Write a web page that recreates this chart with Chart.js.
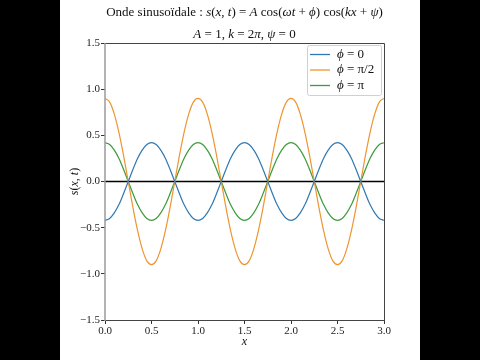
<!DOCTYPE html>
<html>
<head>
<meta charset="utf-8">
<script src="https://cdn.jsdelivr.net/npm/chart.js@4/dist/chart.umd.min.js"></script>
<style>
html,body{margin:0;padding:0;background:#000;}
#wrap{width:480px;height:360px;position:relative;}
</style>
</head>
<body>
<div id="wrap"><canvas id="c" width="480" height="360"></canvas></div>
<script>
// x positions
const xs = [0.00,0.05,0.10,0.15,0.20,0.25,0.30,0.35,0.40,0.45,0.50,0.55,0.60,0.65,0.70,0.75,0.80,0.85,0.90,0.95,
            1.00,1.05,1.10,1.15,1.20,1.25,1.30,1.35,1.40,1.45,1.50,1.55,1.60,1.65,1.70,1.75,1.80,1.85,1.90,1.95,
            2.00,2.05,2.10,2.15,2.20,2.25,2.30,2.35,2.40,2.45,2.50,2.55,2.60,2.65,2.70,2.75,2.80,2.85,2.90,2.95,3.00];
// phi = 0 (blue)
const sPhi0 = [-0.42,-0.40,-0.34,-0.25,-0.13,0.00,0.13,0.25,0.34,0.40,0.42,0.40,0.34,0.25,0.13,0.00,-0.13,-0.25,-0.34,-0.40,
               -0.42,-0.40,-0.34,-0.25,-0.13,0.00,0.13,0.25,0.34,0.40,0.42,0.40,0.34,0.25,0.13,0.00,-0.13,-0.25,-0.34,-0.40,
               -0.42,-0.40,-0.34,-0.25,-0.13,0.00,0.13,0.25,0.34,0.40,0.42,0.40,0.34,0.25,0.13,0.00,-0.13,-0.25,-0.34,-0.40,-0.42];
// phi = pi/2 (orange)
const sPhiHalfPi = [0.90,0.86,0.73,0.53,0.28,0.00,-0.28,-0.53,-0.73,-0.86,-0.90,-0.86,-0.73,-0.53,-0.28,0.00,0.28,0.53,0.73,0.86,
                    0.90,0.86,0.73,0.53,0.28,0.00,-0.28,-0.53,-0.73,-0.86,-0.90,-0.86,-0.73,-0.53,-0.28,0.00,0.28,0.53,0.73,0.86,
                    0.90,0.86,0.73,0.53,0.28,0.00,-0.28,-0.53,-0.73,-0.86,-0.90,-0.86,-0.73,-0.53,-0.28,0.00,0.28,0.53,0.73,0.86,0.90];
// phi = pi (green)
const sPhiPi = [0.42,0.40,0.34,0.25,0.13,0.00,-0.13,-0.25,-0.34,-0.40,-0.42,-0.40,-0.34,-0.25,-0.13,0.00,0.13,0.25,0.34,0.40,
                0.42,0.40,0.34,0.25,0.13,0.00,-0.13,-0.25,-0.34,-0.40,-0.42,-0.40,-0.34,-0.25,-0.13,0.00,0.13,0.25,0.34,0.40,
                0.42,0.40,0.34,0.25,0.13,0.00,-0.13,-0.25,-0.34,-0.40,-0.42,-0.40,-0.34,-0.25,-0.13,0.00,0.13,0.25,0.34,0.40,0.42];
// horizontal reference line
const zeroLineX = [0, 3];
const zeroLineY = [0, 0];
// axis ticks
const xTicks = [0.0, 0.5, 1.0, 1.5, 2.0, 2.5, 3.0];
const yTicks = [-1.5, -1.0, -0.5, 0.0, 0.5, 1.0, 1.5];
// legend labels (math runs: [text, italic])
const legendLabels = [
  [["ϕ", true], [" = 0", false]],
  [["ϕ", true], [" = π/2", false]],
  [["ϕ", true], [" = π", false]]
];
const title1 = [["Onde sinusoïdale : ", false], ["s", true], ["(", false], ["x", true], [", ", false], ["t", true], [") = ", false],
                ["A", true], [" cos(", false], ["ωt", true], [" + ", false], ["ϕ", true], [") cos(", false], ["kx", true],
                [" + ", false], ["ψ", true], [")", false]];
const title2 = [["A", true], [" = 1, ", false], ["k", true], [" = 2", false], ["π", true], [", ", false], ["ψ", true], [" = 0", false]];

const FAM = "'Liberation Serif', 'DejaVu Serif', serif";
const colors = ['#2f78b2', '#ee9530', '#3c9a3a'];

const pts = (X, Y) => X.map((x, i) => ({x: x, y: Y[i]}));

function runsWidth(ctx, runs, size) {
  let w = 0;
  for (const [t, it] of runs) { ctx.font = (it ? 'italic ' : '') + size + 'px ' + FAM; w += ctx.measureText(t).width; }
  return w;
}
function drawRuns(ctx, runs, x, y, size, align) {
  const w = runsWidth(ctx, runs, size);
  let cx = align === 'center' ? x - w / 2 : x;
  ctx.textBaseline = 'middle';
  ctx.textAlign = 'left';
  for (const [t, it] of runs) {
    ctx.font = (it ? 'italic ' : '') + size + 'px ' + FAM;
    ctx.fillText(t, cx, y);
    cx += ctx.measureText(t).width;
  }
}

const decor = {
  id: 'decor',
  beforeDraw(chart) {
    const ctx = chart.ctx;
    ctx.save();
    ctx.fillStyle = '#000';
    ctx.fillRect(0, 0, 480, 360);
    ctx.fillStyle = '#fff';
    ctx.fillRect(60, 0, 360, 360);
    ctx.restore();
  },
  afterDraw(chart) {
    const ctx = chart.ctx;
    const a = chart.chartArea;
    ctx.save();
    // spines
    ctx.lineWidth = 1;
    ctx.strokeStyle = '#444';
    ctx.beginPath();
    ctx.moveTo(a.left, a.top + 0.5); ctx.lineTo(a.right + 0.5, a.top + 0.5);
    ctx.lineTo(a.right + 0.5, a.bottom + 0.5); ctx.lineTo(a.left, a.bottom + 0.5);
    ctx.stroke();
    ctx.strokeStyle = '#9a9a9a';
    ctx.lineWidth = 1.5;
    ctx.beginPath();
    ctx.moveTo(a.left, a.top); ctx.lineTo(a.left, a.bottom + 1);
    ctx.stroke();
    // titles
    ctx.fillStyle = '#111';
    const cx = (a.left + a.right) / 2;
    drawRuns(ctx, title1, cx, 13, 13, 'center');
    drawRuns(ctx, title2, cx, 35, 13, 'center');
    // axis titles
    drawRuns(ctx, [["x", true]], cx, 342, 12, 'center');
    ctx.save();
    ctx.translate(75, (a.top + a.bottom) / 2);
    ctx.rotate(-Math.PI / 2);
    drawRuns(ctx, [["s", true], ["(", false], ["x", true], [", ", false], ["t", true], [")", false]], 0, 0, 12, 'center');
    ctx.restore();
    // legend
    const bx = 307, by = 45, bw = 74, bh = 50;
    ctx.fillStyle = 'rgba(255,255,255,0.85)';
    ctx.strokeStyle = '#d0d0d0';
    ctx.lineWidth = 1;
    ctx.beginPath();
    if (ctx.roundRect) ctx.roundRect(bx + 0.5, by + 0.5, bw, bh, 2); else ctx.rect(bx + 0.5, by + 0.5, bw, bh);
    ctx.fill(); ctx.stroke();
    legendLabels.forEach((lab, i) => {
      const y = by + 9.5 + i * 15.5;
      ctx.strokeStyle = colors[i];
      ctx.lineWidth = 1.3;
      ctx.beginPath(); ctx.moveTo(bx + 3, y); ctx.lineTo(bx + 23, y); ctx.stroke();
      ctx.fillStyle = '#111';
      drawRuns(ctx, lab, bx + 30, y, 13, 'left');
    });
    ctx.restore();
  }
};

const lineDs = (label, data, color) => ({
  label: label, data: data, borderColor: color, borderWidth: 1.2, pointRadius: 0,
  fill: false, cubicInterpolationMode: 'monotone'
});

new Chart(document.getElementById('c'), {
  type: 'line',
  data: {
    datasets: [
      lineDs('ϕ = 0', pts(xs, sPhi0), colors[0]),
      lineDs('ϕ = π/2', pts(xs, sPhiHalfPi), colors[1]),
      lineDs('ϕ = π', pts(xs, sPhiPi), colors[2]),
      {label: 'zero', data: pts(zeroLineX, zeroLineY), borderColor: '#000', borderWidth: 1.5, pointRadius: 0, fill: false}
    ]
  },
  options: {
    responsive: false,
    animation: false,
    devicePixelRatio: 1,
    layout: {padding: {left: 60, right: 96, top: 43, bottom: 0}},
    plugins: {legend: {display: false}, title: {display: false}, tooltip: {enabled: false}},
    scales: {
      x: {
        type: 'linear', min: 0, max: 3,
        afterFit: s => { s.height = 40; },
        afterBuildTicks: s => { s.ticks = xTicks.map(v => ({value: v})); },
        grid: {display: true, drawOnChartArea: false, drawTicks: true, tickLength: 4, color: '#333'},
        border: {display: false},
        ticks: {padding: 1, maxRotation: 0, color: '#222', font: {family: FAM, size: 11},
                callback: v => v.toFixed(1).replace('-', '\u2212')}
      },
      y: {
        type: 'linear', min: -1.5, max: 1.5,
        afterFit: s => { s.width = 45; },
        afterBuildTicks: s => { s.ticks = yTicks.map(v => ({value: v})); },
        grid: {display: true, drawOnChartArea: false, drawTicks: true, tickLength: 4, color: '#333'},
        border: {display: false},
        ticks: {padding: 1, color: '#222', font: {family: FAM, size: 11},
                callback: v => v.toFixed(1).replace('-', '\u2212')}
      }
    }
  },
  plugins: [decor]
});
</script>
</body>
</html>
